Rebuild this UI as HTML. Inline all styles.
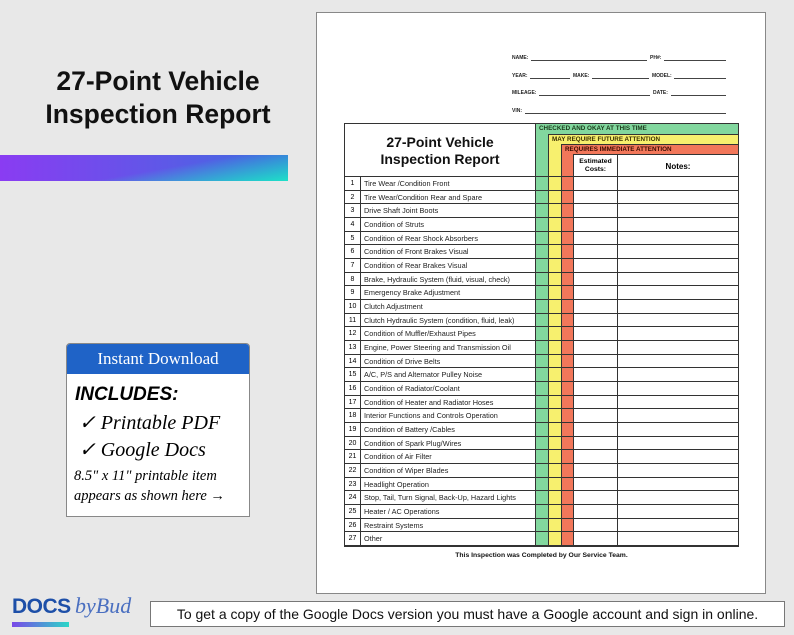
<!DOCTYPE html>
<html><head><meta charset="utf-8"><style>
body{margin:0;width:794px;height:635px;background:#e8e8e8;position:relative;overflow:hidden;font-family:"Liberation Sans",sans-serif}
.a{position:absolute}
.fl{position:absolute;font-size:5px;font-weight:bold;color:#222}
.ln{position:absolute;border-bottom:1px solid #444;height:0}
</style></head><body>
<div class="a" style="left:0;width:316px;top:65px;text-align:center;font-weight:bold;font-size:26.5px;line-height:33px;color:#111">27-Point Vehicle<br>Inspection Report</div>
<div class="a" style="left:0;top:155px;width:288px;height:26px;background:linear-gradient(170deg,rgba(0,0,0,0) 55%,#1ee0c8 100%),linear-gradient(90deg,#8a3cf2,#3d6ddf)"></div>
<div class="a" style="left:66px;top:343px;width:182px;height:172px;background:#fff;border:1px solid #888;border-radius:4px 4px 0 0;font-family:'Liberation Serif',serif">
 <div style="background:#1f63c7;color:#fff;height:30px;line-height:30px;text-align:center;font-size:17px;border-radius:3px 3px 0 0">Instant Download</div>
 <div style="position:absolute;left:8px;top:40px;font-family:'Liberation Sans',sans-serif;font-weight:bold;font-style:italic;font-size:19px">INCLUDES:</div>
 <div style="position:absolute;left:12px;top:66px;font-style:italic;font-size:20px">✓ Printable PDF</div>
 <div style="position:absolute;left:12px;top:93px;font-style:italic;font-size:20px">✓ Google Docs</div>
 <div style="position:absolute;left:7px;top:122px;font-style:italic;font-size:14.5px;line-height:20px">8.5" x 11" printable item<br>appears as shown here →</div>
</div>
<div class="a" style="left:12px;top:595px;width:130px;height:36px">
 <div style="position:absolute;left:0;top:0;font-weight:bold;font-size:21px;color:#1d4fa8;letter-spacing:-0.5px">DOCS</div>
 <div style="position:absolute;left:63px;top:-2px;font-style:italic;font-family:'Liberation Serif',serif;font-size:22px;color:#4a6fc0">byBud</div>
 <div style="position:absolute;left:0;top:27px;width:57px;height:5px;background:linear-gradient(90deg,#7a48e8,#2bd6c7)"></div>
</div>
<div class="a" style="left:150px;top:601px;width:635px;height:26px;background:#fff;border:1px solid #777;box-sizing:border-box;text-align:center;line-height:24px;font-size:14px;color:#111">To get a copy of the Google Docs version you must have a Google account and sign in online.</div>
<div class="a" style="left:316px;top:12px;width:450px;height:582px;background:#fff;border:1px solid #888;box-sizing:border-box"></div>
<div class="fl" style="left:512px;top:55px">NAME:</div><div class="ln" style="left:531px;top:60px;width:116px"></div>
<div class="fl" style="left:650px;top:55px">PH#:</div><div class="ln" style="left:664px;top:60px;width:62px"></div>
<div class="fl" style="left:512px;top:73px">YEAR:</div><div class="ln" style="left:530px;top:78px;width:40px"></div>
<div class="fl" style="left:573px;top:73px">MAKE:</div><div class="ln" style="left:592px;top:78px;width:57px"></div>
<div class="fl" style="left:652px;top:73px">MODEL:</div><div class="ln" style="left:674px;top:78px;width:52px"></div>
<div class="fl" style="left:512px;top:90px">MILEAGE:</div><div class="ln" style="left:539px;top:95px;width:111px"></div>
<div class="fl" style="left:653px;top:90px">DATE:</div><div class="ln" style="left:671px;top:95px;width:55px"></div>
<div class="fl" style="left:512px;top:108px">VIN:</div><div class="ln" style="left:525px;top:113px;width:201px"></div>
<div id="tbl" class="a" style="left:344px;top:123px;width:395px;height:424px;border:1px solid #333;box-sizing:border-box"></div>
<div class="a" style="left:344px;top:552px;width:395px;text-align:center;font-size:6.8px;font-weight:bold;color:#111">This Inspection was Completed by Our Service Team.</div>
<script>
const items=["Tire Wear /Condition Front","Tire Wear/Condition Rear and Spare","Drive Shaft Joint Boots","Condition of Struts","Condition of Rear Shock Absorbers","Condition of Front Brakes Visual","Condition of Rear Brakes Visual","Brake, Hydraulic System (fluid, visual, check)","Emergency Brake Adjustment","Clutch Adjustment","Clutch Hydraulic System (condition, fluid, leak)","Condition of Muffler/Exhaust Pipes","Engine, Power Steering and Transmission Oil","Condition of Drive Belts","A/C, P/S and Alternator Pulley Noise","Condition of Radiator/Coolant","Condition of Heater and Radiator Hoses","Interior Functions and Controls Operation","Condition of Battery /Cables","Condition of Spark Plug/Wires","Condition of Air Filter","Condition of Wiper Blades","Headlight Operation","Stop, Tail, Turn Signal, Back-Up, Hazard Lights","Heater / AC Operations","Restraint Systems","Other"];
const t=document.getElementById('tbl');
function add(html,st,name){const d=document.createElement('div');d.style.cssText='position:absolute;box-sizing:border-box;'+st;d.innerHTML=html;


t.appendChild(d);return d;}
add('27-Point Vehicle<br>Inspection Report','left:0;top:0;width:191px;height:53px;border-right:1px solid #333;border-bottom:1px solid #333;text-align:center;font-weight:bold;font-size:14px;line-height:17px;padding-top:10px;color:#111','table-title');
add('CHECKED AND OKAY AT THIS TIME','left:191px;top:0;width:202px;height:422px;background:#82d79e;font-size:6.3px;font-weight:bold;padding-left:3px;line-height:10px;color:#1a3a1a','green-column');
add('MAY REQUIRE FUTURE ATTENTION','left:203px;top:10px;width:190px;height:412px;background:#f7f06e;font-size:6.3px;font-weight:bold;padding-left:3px;line-height:10px;border-left:1px solid #333;border-top:1px solid #333;color:#3a3000','yellow-column');
add('REQUIRES IMMEDIATE ATTENTION','left:216px;top:20px;width:177px;height:402px;background:#f2775a;font-size:6.3px;font-weight:bold;padding-left:3px;line-height:10px;border-left:1px solid #333;border-top:1px solid #333;color:#3a0a00','red-column');
add('Estimated<br>Costs:','left:228px;top:30px;width:45px;height:392px;background:#fff;border-left:1px solid #333;border-top:1px solid #333;border-right:1px solid #333;text-align:center;font-size:6.8px;font-weight:bold;line-height:8px;padding-top:3px','estimated-costs-column');
add('Notes:','left:273px;top:30px;width:120px;height:392px;background:#fff;border-top:1px solid #333;text-align:center;font-size:8px;font-weight:bold;padding-top:7px','notes-column');
add('','left:191px;top:52px;width:202px;height:1px;background:#333','header-line');
const rowH=(422-53)/items.length;
items.forEach((s,i)=>{const y=53+i*rowH;
add(String(i+1),'left:0;top:'+y+'px;width:16px;height:'+rowH+'px;border-right:1px solid #333;border-bottom:1px solid #333;text-align:center;font-size:7px;line-height:'+rowH+'px','row-number-'+(i+1));
add(s,'left:16px;top:'+y+'px;width:175px;height:'+rowH+'px;border-right:1px solid #333;border-bottom:1px solid #333;padding-left:3px;font-size:7.3px;color:#222;line-height:'+rowH+'px;white-space:nowrap','row-item-'+(i+1));
add('','left:191px;top:'+(y+rowH-1)+'px;width:202px;height:1px;background:#333','row-line-'+(i+1));});
</script>
</body></html>
